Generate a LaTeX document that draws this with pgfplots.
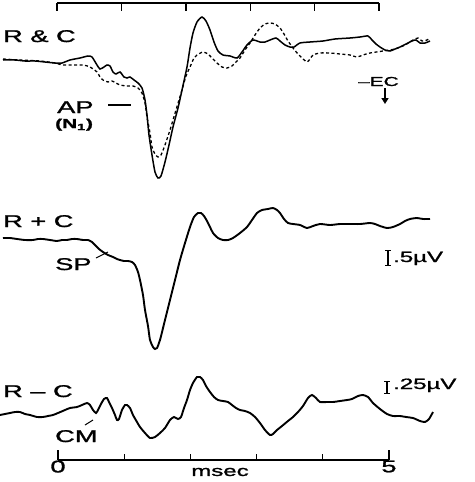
\documentclass[border=0pt]{standalone}
\usepackage{fontspec}
\setmainfont{Liberation Sans}[FakeBold=1.2]
\usepackage{graphicx}
\usepackage{pgfplots}
\pgfplotsset{compat=1.18}
\usetikzlibrary{arrows.meta}
% lettering of the original is very wide
\newcommand\wide[1]{\scalebox{1.6}[1]{#1}}

\begin{document}
\begin{tikzpicture}
% main panel, in picture units (1 unit = 1pt), y downwards
\begin{axis}[at={(0pt,0pt)}, anchor=south west,
  width=474pt, height=482pt, scale only axis,
  xmin=0, xmax=474, ymin=0, ymax=482, y dir=reverse,
  hide axis, clip=false]

% R & C, solid
\addplot[black, line width=1.5pt, smooth, tension=0.4] coordinates {
(3,60)(15,60)(25,61)(35,61)(45,62)(55,63)(62,63)(70,60)(80,58)(88,56)(92,57)(97,65)
(100,69)(104,67)(107,65)(110,66)(113,72)(116,74)(120,72)(124,77)(127,78)(130,77)
(134,80)(138,83)(142,88)(145,100)(147,115)(149,135)(152,155)(155,172)(158,178)
(161,176)(165,162)(169,145)(173,127)(178,108)(182,90)(187,67)(190,48)(193,33)
(197,22)(202,17)(206,21)(210,30)(214,42)(218,51)(223,55)(230,56)(237,58)(242,52)
(247,45)(253,40)(260,42)(265,42)(270,40)(276,38)(280,41)(285,45)(290,47)(294,47)
(300,43)(310,42)(323,41)(335,39)(350,38)(360,37)(368,36)(372,40)(376,44)(380,47)
(385,50)(390,51)(395,49)(400,47)(406,44)(412,41)(416,40)(420,43)(425,43)(430,41)};

% R & C, dashed
\addplot[black, line width=1.3pt, dash pattern=on 3pt off 2.5pt, smooth, tension=0.4] coordinates {
(3,59)(20,60)(40,61)(55,63)(62,65)(70,65)(83,65)(90,67)(97,72)(100,77)(103,80)
(108,82)(112,81)(116,83)(120,85)(127,86)(133,86)(138,88)(142,93)(145,103)(147,117)
(150,133)(152,147)(155,154)(158,157)(161,155)(165,145)(170,130)(176,110)(182,90)
(186,76)(190,67)(194,58)(197,55)(203,52)(208,54)(212,58)(217,63)(222,67)(227,68)
(232,66)(236,62)(240,58)(245,50)(250,43)(255,35)(260,28)(265,24)(270,23)(275,24)
(280,28)(284,34)(288,41)(293,48)(298,54)(302,58)(307,62)(310,59)(313,55)(320,53)
(330,53)(340,54)(350,55)(357,57)(363,55)(370,53)(383,51)(395,49)(405,45)(413,40)
(418,38)(422,41)(427,40)(430,38)};

% R + C
\addplot[black, line width=1.9pt, smooth, tension=0.4] coordinates {
(3,238)(10,238)(17,239)(25,240)(33,240)(38,239)(43,239)(50,240)(57,241)(62,240)
(67,240)(72,239)(77,239)(83,240)(88,240)(92,242)(95,245)(99,249)(103,252)(108,255)
(113,257)(117,259)(120,260)(124,261)(128,261)(132,262)(135,265)(138,272)(140,280)
(143,295)(145,310)(148,326)(150,340)(153,347)(155,349)(157,348)(160,340)(165,320)
(170,300)(175,280)(180,260)(185,243)(190,227)(194,217)(198,213)(201,213)(204,216)
(207,221)(210,227)(213,233)(218,238)(223,240)(228,240)(233,238)(240,233)(247,227)
(252,220)(257,213)(262,210)(268,209)(273,208)(277,210)(280,213)(284,219)(288,223)
(293,224)(300,225)(307,228)(313,226)(320,224)(330,225)(340,224)(350,224)(360,224)
(370,223)(375,224)(380,226)(387,228)(393,227)(400,224)(405,221)(410,219)(417,218)
(423,219)(430,219)};

% R - C
\addplot[black, line width=1.9pt, smooth, tension=0.4] coordinates {
(0,415)(5,414)(10,413)(15,412)(20,412)(25,414)(30,415)(37,417)(43,417)(48,416)
(53,415)(58,413)(65,410)(70,408)(77,407)(82,405)(87,403)(90,405)(93,410)(96,413)
(98,410)(101,404)(104,399)(107,398)(109,402)(112,408)(115,415)(117,420)(119,419)
(122,410)(125,405)(127,405)(130,408)(133,415)(137,422)(140,427)(145,433)(150,438)
(155,437)(160,433)(165,428)(170,420)(174,417)(178,419)(181,417)(184,408)(187,400)
(190,390)(193,383)(197,377)(200,377)(203,380)(206,386)(210,392)(214,397)(218,400)
(223,401)(228,402)(232,405)(236,408)(240,410)(245,411)(250,413)(255,417)(260,423)
(265,430)(270,435)(273,434)(277,430)(282,426)(288,421)(293,417)(298,412)(303,406)
(308,398)(312,395)(316,398)(320,402)(327,402)(333,402)(340,401)(347,400)(352,399)
(358,396)(363,395)(368,397)(373,403)(380,409)(387,414)(393,416)(400,416)(406,417)
(413,418)(420,421)(425,422)(429,419)(433,412)};

% labels
\tikzset{lab/.style={anchor=base west, inner sep=0pt, font=\fontsize{17}{17}\selectfont}}
\node[lab] at (axis cs:3,42) {\wide{R \& C}};
\node[lab] at (axis cs:3,227) {\wide{R + C}};
\node[lab] at (axis cs:3,397) {\wide{R – C}};
\node[lab] at (axis cs:57,113) {\wide{AP}};
\node[anchor=base west, inner sep=0pt, font=\bfseries\fontsize{13}{13}\selectfont]
  at (axis cs:55,128) {\wide{(N\textsubscript{1})}};
\node[lab] at (axis cs:55,270) {\wide{SP}};
\node[lab] at (axis cs:55,442) {\wide{CM}};
\node[anchor=base west, inner sep=0pt, font=\fontsize{13}{13}\selectfont]
  at (axis cs:358,86) {\wide{–EC}};
\node[anchor=base west, inner sep=0pt, font=\fontsize{15}{15}\selectfont]
  at (axis cs:393,262) {\wide{.5µV}};
\node[anchor=base west, inner sep=0pt, font=\fontsize{15}{15}\selectfont]
  at (axis cs:393,389) {\wide{.25µV}};
\node[anchor=center, inner sep=0pt, font=\fontsize{15}{15}\selectfont]
  at (axis cs:220,472) {\wide{msec}};

% pointer strokes
\draw[line width=1.3pt] (axis cs:108,105) -- (axis cs:131,105);
\draw[line width=1pt] (axis cs:96,258) -- (axis cs:108,252);
\draw[line width=1pt] (axis cs:85,425) -- (axis cs:93,420);
\draw[line width=1.5pt, -{Triangle[length=6pt, width=7pt]}] (axis cs:385,88) -- (axis cs:385,104);

% amplitude bars
\draw[line width=1.3pt] (axis cs:388,250) -- (axis cs:388,265);
\draw[line width=1pt] (axis cs:385,250) -- (axis cs:391,250) (axis cs:385,265) -- (axis cs:391,265);
\draw[line width=1.3pt] (axis cs:387,381) -- (axis cs:387,393);
\draw[line width=1pt] (axis cs:384,381) -- (axis cs:390,381) (axis cs:384,393) -- (axis cs:390,393);
\end{axis}

% bottom time scale, 0 to 5 msec
\begin{axis}[at={(58pt,22pt)}, anchor=south west,
  width=331pt, height=20pt, scale only axis,
  xmin=0, xmax=5, ymin=0, ymax=1,
  axis x line*=bottom, axis y line=none,
  x axis line style={-, line width=1.6pt},
  xtick={1,2,3,4}, xticklabels={},
  xtick align=inside, major tick length=6pt,
  tick style={black, line width=1.4pt},
  extra x ticks={0,5}, extra x tick labels={\wide{0},\wide{5}},
  extra x tick style={major tick length=10pt},
  xticklabel style={font=\fontsize{17}{17}\selectfont, yshift=3pt}]
\addplot[draw=none] coordinates {(0,0)(5,0)};
\end{axis}

% top time scale
\begin{axis}[at={(57pt,479pt)}, anchor=north west,
  width=322pt, height=20pt, scale only axis,
  xmin=0, xmax=5, ymin=0, ymax=1,
  axis x line*=top, axis y line=none,
  x axis line style={-, line width=1.6pt},
  xtick={0,1,2,3,4,5}, xticklabels={},
  xtick align=inside, major tick length=8pt,
  tick style={black, line width=1.4pt}]
\addplot[draw=none] coordinates {(0,0)(5,0)};
\end{axis}

\pgfresetboundingbox
\path (0pt,0pt) rectangle (474pt,482pt);
\end{tikzpicture}
\end{document}
